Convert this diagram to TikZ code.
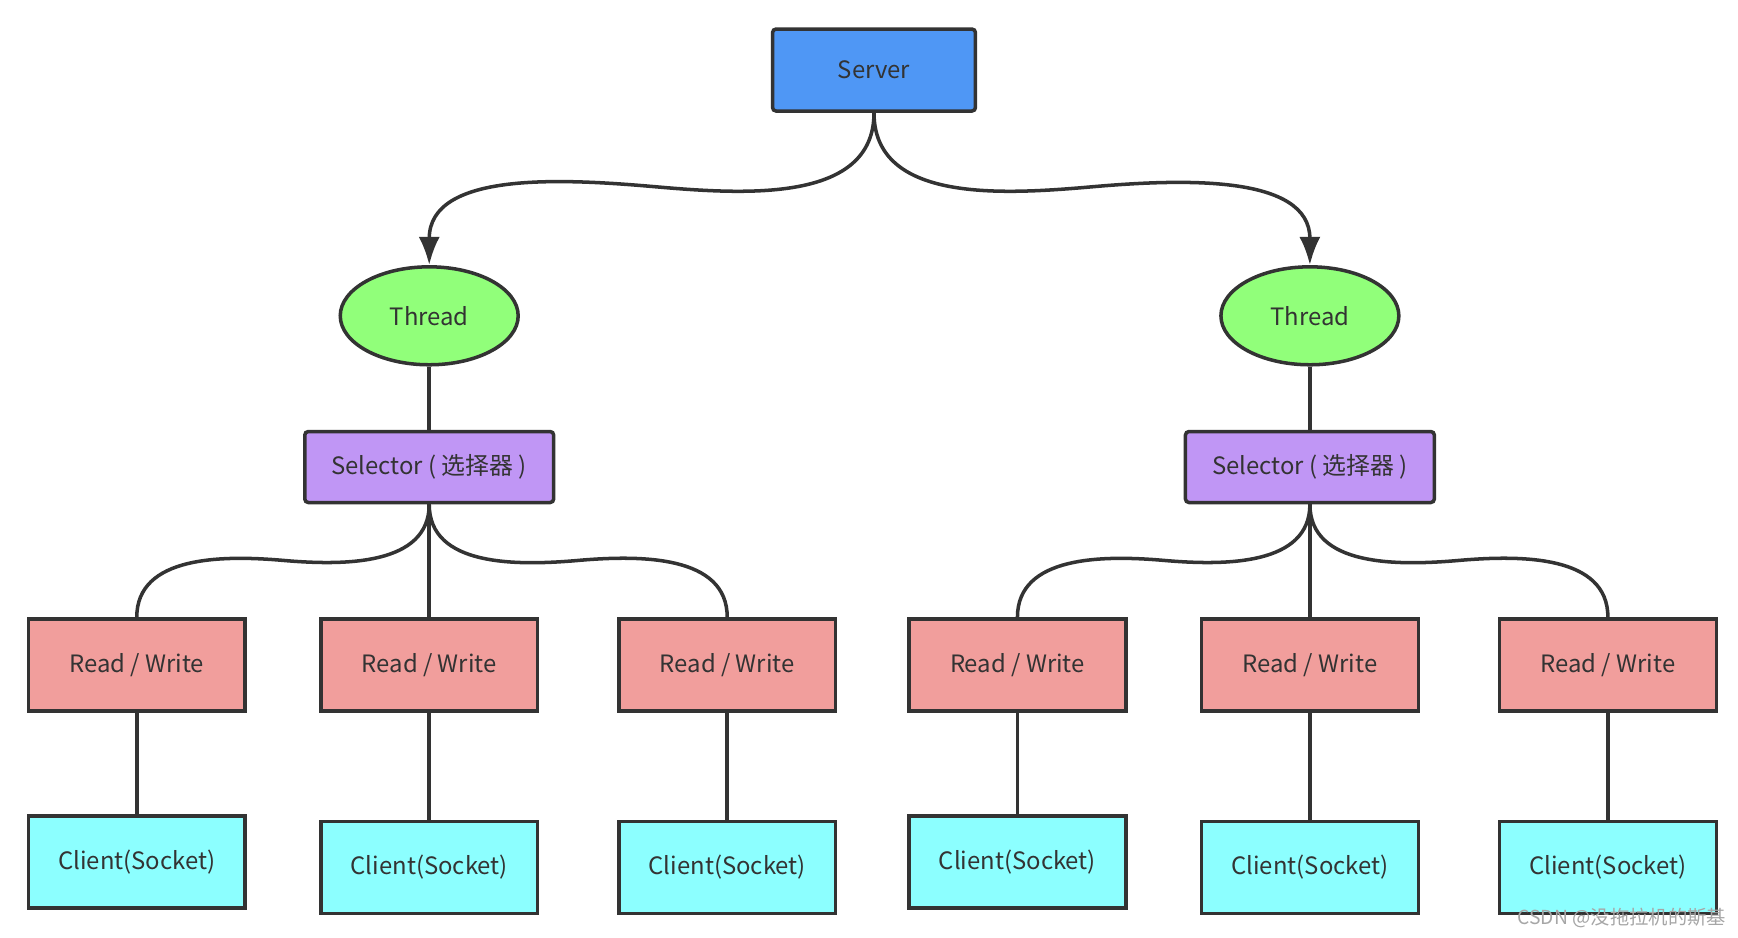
\documentclass[tikz,border=0pt]{standalone}
\usepackage{fontspec}
\setmainfont{Noto Sans CJK SC}
\usetikzlibrary{arrows.meta,shapes.geometric}
\definecolor{serverBlue}{RGB}{79,151,245}
\definecolor{threadGreen}{RGB}{145,255,122}
\definecolor{selPurple}{RGB}{192,150,245}
\definecolor{rwRed}{RGB}{241,158,156}
\definecolor{clientCyan}{RGB}{140,255,255}
\definecolor{lineGray}{RGB}{51,51,51}
\tikzset{
    box/.style={draw=lineGray, line width=1pt, inner sep=1pt, minimum width=2.17cm, minimum height=0.92cm, font=\fontsize{6.8}{8}\selectfont, text=lineGray},
    oval/.style={ellipse, draw=lineGray, line width=1pt, inner sep=1pt, minimum width=1.78cm, minimum height=0.98cm, font=\fontsize{6.8}{8}\selectfont, text=lineGray},
    link/.style={draw=lineGray, line width=1pt},
}
\begin{document}
\begin{tikzpicture}[x=0.01112cm, y=-0.01112cm]
    \useasboundingbox (0,0) rectangle (1563,843);

    \node[box, fill=serverBlue, minimum width=2.03cm, minimum height=0.82cm, rounded corners=1pt] (srv) at (786,63) {Server};

    \node[oval, fill=threadGreen] (thL) at (386,284) {Thread};
    \node[oval, fill=threadGreen] (thR) at (1178,284) {Thread};

    \node[box, fill=selPurple, minimum width=2.49cm, minimum height=0.71cm, rounded corners=1pt] (selL) at (386,420) {Selector ( 选择器 )};
    \node[box, fill=selPurple, minimum width=2.49cm, minimum height=0.71cm, rounded corners=1pt] (selR) at (1178,420) {Selector ( 选择器 )};

    % read / write row
    \foreach \i/\x in {1/123, 2/386, 3/654, 4/915, 5/1178, 6/1446}
        \node[box, fill=rwRed] (rw\i) at (\x,598) {Read / Write};

    % client row
    \foreach \i/\x/\y in {1/123/775, 2/386/780, 3/654/780, 4/915/775, 5/1178/780, 6/1446/780}
        \node[box, fill=clientCyan] (cl\i) at (\x,\y) {Client(Socket)};

    % server to threads
    \coordinate (mL) at (590,168);
    \coordinate (mR) at (982,168);
    \draw[link, -{Latex[length=8pt,width=6pt]}] (srv.south) to[out=-90,in=-5] (mL) to[out=175,in=90] (thL.north);
    \draw[link, -{Latex[length=8pt,width=6pt]}] (srv.south) to[out=-90,in=185] (mR) to[out=5,in=90] (thR.north);

    \draw[link] (thL) -- (selL);
    \draw[link] (thR) -- (selR);

    % selectors to read / write
    \coordinate (a1) at (255,504);
    \coordinate (a3) at (520,504);
    \coordinate (a4) at (1047,504);
    \coordinate (a6) at (1312,504);
    \draw[link] (selL.south) to[out=-90,in=-5] (a1) to[out=175,in=90] (rw1.north);
    \draw[link] (selL.south) to[out=-90,in=185] (a3) to[out=5,in=90] (rw3.north);
    \draw[link] (selL.south) -- (rw2.north);
    \draw[link] (selR.south) to[out=-90,in=-5] (a4) to[out=175,in=90] (rw4.north);
    \draw[link] (selR.south) to[out=-90,in=185] (a6) to[out=5,in=90] (rw6.north);
    \draw[link] (selR.south) -- (rw5.north);

    \foreach \i in {1,...,6}
        \draw[link] (rw\i) -- (cl\i);

    \node[anchor=south east, font=\fontsize{5.5}{6}\selectfont, text=gray!70, inner sep=1pt] (mark) at (1556,838) {CSDN @没拖拉机的斯基};
\end{tikzpicture}
\end{document}
